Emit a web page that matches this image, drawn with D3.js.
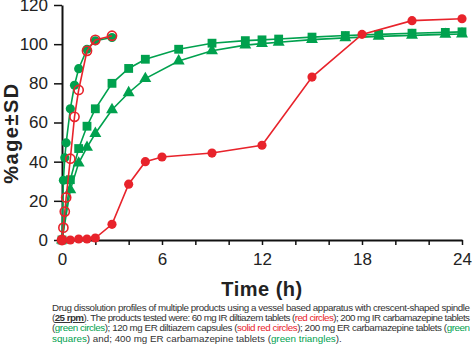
<!DOCTYPE html>
<html>
<head>
<meta charset="utf-8">
<script src="https://cdn.jsdelivr.net/npm/d3@7"></script>
<style>
    body { margin: 0; background: #fff; }
    text { font-family: "Liberation Sans", Arial, sans-serif; }
    .tick-label { font-size: 17px; fill: #222; }
    .axis-title { font-size: 20px; font-weight: bold; fill: #222; }
    .caption { font-size: 9.8px; fill: #333; }
</style>
</head>
<body>
<div id="chart"></div>
<script>
// Immediate release products (time in hours)
const timeIR = [0, 5 / 60, 10 / 60, 15 / 60, 0.5, 0.75, 1, 1.5, 2, 3];
const irDiltiazem = [0, 6.3, 14.5, 21.7, 41.5, 62.9, 76.6, 96.6, 102.2, 104.3];      // red open circles
const irCarbamazepine = [0, 30.5, 42, 49.6, 67, 79, 87.5, 97.4, 101.7, 103.4];   // green circles

// ER diltiazem capsules
const timeErDil = [0, 0.5, 1, 1.5, 2, 3, 4, 5, 6, 9, 12, 15, 18, 21, 24];
const erDiltiazem = [0, 0, 0.5, 0.5, 1, 8, 28.5, 40, 42.4, 44.4, 48.4, 83.2, 105, 112, 113];

// ER carbamazepine tablets
const timeErCarb = [0, 0.5, 1, 1.5, 2, 3, 4, 5, 7, 9, 11, 12, 13, 15, 17, 19, 21, 23, 24];
const erCarb200 = [0, 30.8, 46.7, 58.1, 67, 80, 87.6, 92.3, 97.4, 100.5, 101.8, 102.2, 102.6, 103.6, 104.4, 105, 105.6, 106, 106.3];  // squares
const erCarb400 = [0, 25.6, 39.3, 47.3, 54.4, 66.5, 75.2, 82.4, 91.4, 96.6, 99.5, 100.3, 101, 102.3, 103.2, 104, 104.5, 105, 105.2];  // triangles

const xTicks = [0, 2, 4, 6, 8, 10, 12, 14, 16, 18, 20, 22, 24];
const yTicks = [0, 20, 40, 60, 80, 100, 120];

const RED = "#e8232b";
const GREEN = "#00a14e";

const width = 474, height = 345;
const margin = { top: 5, right: 12, bottom: 105, left: 62 };
const innerW = width - margin.left - margin.right;
const innerH = height - margin.top - margin.bottom;

const svg = d3.select("#chart")
    .append("svg")
    .attr("width", width)
    .attr("height", height);

const g = svg.append("g")
    .attr("transform", `translate(${margin.left}, ${margin.top})`);

const x = d3.scaleLinear().domain([0, 24]).range([0, innerW]);
const y = d3.scaleLinear().domain([0, 120]).range([innerH, 0]);

// axes
const xAxis = g.append("g")
    .attr("transform", `translate(0, ${innerH})`)
    .call(d3.axisBottom(x)
        .tickValues(xTicks)
        .tickFormat(d => d % 6 === 0 ? d : "")
        .tickSize(5)
        .tickSizeOuter(0)
        .tickPadding(8));

const yAxis = g.append("g")
    .call(d3.axisLeft(y)
        .tickValues(yTicks)
        .tickSize(8)
        .tickSizeOuter(0)
        .tickPadding(6));

[xAxis, yAxis].forEach(ax => {
    ax.attr("font-size", null).attr("font-family", null);
    ax.select(".domain").attr("stroke", "#111").attr("stroke-width", 2);
    ax.selectAll(".tick line").attr("stroke", "#111").attr("stroke-width", 1.5);
    ax.selectAll(".tick text").attr("class", "tick-label");
});

// axis titles
svg.append("text")
    .attr("class", "axis-title")
    .attr("x", margin.left + x(12))
    .attr("y", 296)
    .attr("text-anchor", "middle")
    .style("letter-spacing", "0.5px")
    .text("Time (h)");

svg.append("text")
    .attr("class", "axis-title")
    .attr("transform", "translate(18, 133) rotate(-90)")
    .attr("text-anchor", "middle")
    .style("letter-spacing", "1.5px")
    .text("%age\u00b1SD");

// series helpers
const line = d3.line().x(d => x(d[0])).y(d => y(d[1]));

function drawSeries(times, values, color, marker) {
    const pts = times.map((t, i) => [t, values[i]]);
    g.append("path")
        .datum(pts)
        .attr("fill", "none")
        .attr("stroke", color)
        .attr("stroke-width", 1.6)
        .attr("d", line);

    const sym = marker === "square" ? d3.symbolSquare
        : marker === "triangle" ? d3.symbolTriangle : d3.symbolCircle;
    const size = marker === "square" ? 78 : marker === "triangle" ? 62 : 66;

    g.append("g")
        .selectAll("path")
        .data(pts)
        .enter()
        .append("path")
        .attr("transform", d => `translate(${x(d[0])}, ${y(d[1])})`)
        .attr("d", d3.symbol().type(sym).size(size))
        .attr("fill", marker === "open" ? "none" : color)
        .attr("stroke", color)
        .attr("stroke-width", marker === "open" ? 1.6 : 0);
}

drawSeries(timeErCarb, erCarb400, GREEN, "triangle");
drawSeries(timeErCarb, erCarb200, GREEN, "square");
drawSeries(timeIR, irCarbamazepine, GREEN, "circle");
drawSeries(timeIR, irDiltiazem, RED, "open");
drawSeries(timeErDil, erDiltiazem, RED, "circle");

// caption
const captionLines = [
    [["Drug dissolution profiles of multiple products using a vessel based apparatus with crescent-shaped spindle"]],
    [["("], ["25 rpm", "bold"], ["). The products tested were: 60 mg IR diltiazem tablets ("], ["red circles", "red"], ["); 200 mg IR carbamazepine tablets"]],
    [["("], ["green circles", "green"], ["); 120 mg ER diltiazem capsules ("], ["solid red circles", "red"], ["); 200 mg ER carbamazepine tablets ("], ["green", "green"]],
    [["squares", "green"], [") and; 400 mg ER carbamazepine tablets ("], ["green triangles", "green"], [")."]]
];

const captionY = [310.5, 321, 331.3, 341.5];
captionLines.forEach((parts, i) => {
    const t = svg.append("text")
        .attr("class", "caption")
        .attr("x", 52)
        .attr("y", captionY[i]);
    if (i < 3) t.attr("textLength", 418).attr("lengthAdjust", "spacing");
    parts.forEach(([str, style]) => {
        const ts = t.append("tspan").text(str);
        if (style === "red") ts.attr("fill", RED);
        if (style === "green") ts.attr("fill", GREEN);
        if (style === "bold") ts.attr("font-weight", "bold").attr("text-decoration", "underline");
    });
});
</script>
</body>
</html>
